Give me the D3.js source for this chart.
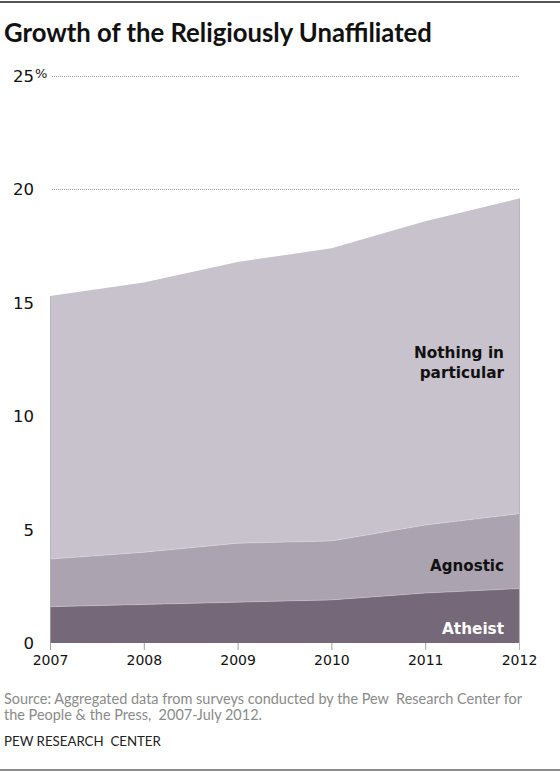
<!DOCTYPE html>
<html>
<head>
<meta charset="utf-8">
<script src="https://cdn.jsdelivr.net/npm/d3@7"></script>
<style>
  html, body { margin: 0; padding: 0; background: #fff; }
  svg { display: block; }
</style>
</head>
<body>
<svg id="chart" width="560" height="773"></svg>
<script>
// ---- data ----
const years = [2007, 2008, 2009, 2010, 2011, 2012];
const atheist = [1.6, 1.7, 1.8, 1.9, 2.2, 2.4];
const agnostic = [2.1, 2.3, 2.6, 2.6, 3.0, 3.3];
const nothingInParticular = [11.6, 11.9, 12.4, 12.9, 13.4, 13.9];
const seriesKeys = ["Atheist", "Agnostic", "Nothing in particular"];
const yTicks = [0, 5, 10, 15, 20, 25];
const gridTicks = [5, 10, 15, 20, 25];
const titleText = "Growth of the Religiously Unaffiliated";
const sourceLines = [
  "Source: Aggregated data from surveys conducted by the Pew  Research Center for",
  "the People & the Press,  2007-July 2012."
];
const creditText = "PEW RESEARCH  CENTER";

// ---- setup ----
const svg = d3.select("#chart");
const W = 560, H = 773;
const pLeft = 50, pRight = 519, pTop = 76, pBottom = 643;

const x = d3.scaleLinear().domain([2007, 2012]).range([pLeft, pRight]);
const y = d3.scaleLinear().domain([0, 25]).range([pBottom, pTop]);

const colors = { "Atheist": "#756879", "Agnostic": "#aba3af", "Nothing in particular": "#c7c2cc" };

const table = years.map((yr, i) => ({
  year: yr,
  "Atheist": atheist[i],
  "Agnostic": agnostic[i],
  "Nothing in particular": nothingInParticular[i]
}));
const stacked = d3.stack().keys(seriesKeys)(table);

function fit(sel, target) {
  const node = sel.node();
  const fs = parseFloat(sel.attr("font-size"));
  const w = node.getComputedTextLength();
  if (w > 0) sel.attr("font-size", (fs * target / w).toFixed(2));
  return sel;
}

// top rule
svg.append("rect").attr("x", 0).attr("y", 1).attr("width", W).attr("height", 2).attr("fill", "#555");

// title
const title = svg.append("text")
  .attr("x", 4).attr("y", 42)
  .attr("font-family", "Lato, 'Open Sans', sans-serif")
  .attr("font-weight", "bold")
  .attr("font-size", 21)
  .attr("fill", "#111")
  .text(titleText);
fit(title, 428);

// gridlines (dotted)
svg.append("g").selectAll("line").data(gridTicks).join("line")
  .attr("x1", pLeft + 2).attr("x2", pRight)
  .attr("y1", d => Math.round(y(d)) + 0.5).attr("y2", d => Math.round(y(d)) + 0.5)
  .attr("stroke", "#9a9a9a").attr("stroke-width", 1).attr("stroke-dasharray", "1,1");

// areas
const area = d3.area()
  .x(d => x(d.data.year))
  .y0(d => y(d[0]))
  .y1(d => y(d[1]));

svg.append("g").selectAll("path").data(stacked.slice().reverse()).join("path")
  .attr("d", area)
  .attr("fill", d => colors[d.key]);

// subtle light boundary lines between layers
const topLine = d3.line().x(d => x(d.data.year)).y(d => y(d[1]));
svg.append("g").selectAll("path").data(stacked.slice(0, 2)).join("path")
  .attr("d", topLine)
  .attr("fill", "none")
  .attr("stroke", "#ffffff").attr("stroke-opacity", 0.35).attr("stroke-width", 0.8);

// x axis: baseline ticks
const xAxis = d3.axisBottom(x).tickValues(years).tickFormat(d3.format("d")).tickSize(7).tickPadding(5);
const gx = svg.append("g").attr("transform", `translate(0,${pBottom})`).call(xAxis);
gx.select(".domain").remove();
gx.selectAll(".tick line").attr("stroke", "#a0a0a0");
gx.selectAll(".tick text")
  .attr("font-family", "'DejaVu Sans', Verdana, sans-serif")
  .attr("font-size", 14)
  .attr("fill", "#111");

// right edge line
svg.append("line")
  .attr("x1", pRight + 0.5).attr("x2", pRight + 0.5)
  .attr("y1", y(stacked[2][5][1])).attr("y2", pBottom + 7)
  .attr("stroke", "#b8b8b8").attr("stroke-width", 1);
// left edge
svg.append("line")
  .attr("x1", pLeft + 0.5).attr("x2", pLeft + 0.5)
  .attr("y1", y(stacked[2][0][1])).attr("y2", pBottom)
  .attr("stroke", "#b0b0b0").attr("stroke-width", 1).attr("stroke-opacity", 0.6);

// y axis labels
const yAxis = d3.axisLeft(y).tickValues(yTicks).tickSize(0).tickPadding(0).tickFormat(d => d);
const gy = svg.append("g").attr("transform", `translate(34,0)`).call(yAxis);
gy.select(".domain").remove();
gy.selectAll(".tick text")
  .attr("font-family", "'DejaVu Sans', Verdana, sans-serif")
  .attr("font-size", 16.5)
  .attr("fill", "#111")
  .attr("dy", "0.33em");
// percent sign on top tick
gy.selectAll(".tick").filter(d => d === 25).append("text")
  .attr("x", 1).attr("dy", "0.1em")
  .attr("text-anchor", "start")
  .attr("font-family", "'DejaVu Sans', Verdana, sans-serif")
  .attr("font-size", 13)
  .attr("fill", "#111")
  .text("%");

// series labels
const lblFont = "'DejaVu Sans', Verdana, sans-serif";
const labelX = 504;
function seriesLabel(t, yy, color, width) {
  const s = svg.append("text").attr("x", labelX).attr("y", yy)
    .attr("text-anchor", "end").attr("font-family", lblFont).attr("font-weight", "bold")
    .attr("font-size", 14).attr("fill", color).text(t);
  fit(s, width);
  return s;
}
const nl = seriesLabel("Nothing in", 358, "#111", 90);
svg.append("text").attr("x", labelX).attr("y", 378)
  .attr("text-anchor", "end").attr("font-family", lblFont).attr("font-weight", "bold")
  .attr("font-size", nl.attr("font-size")).attr("fill", "#111").text("particular");
seriesLabel("Agnostic", 571, "#111", 74);
seriesLabel("Atheist", 634, "#ffffff", 62);

// source
const src = svg.append("g");
sourceLines.forEach((t, i) => {
  const s = src.append("text")
    .attr("x", 4).attr("y", 704 + i * 15.5)
    .attr("font-family", "Lato, 'Open Sans', sans-serif")
    .attr("font-size", 12.5)
    .attr("fill", "#8a8a8a")
    .style("white-space", "pre")
    .text(t);
  if (i === 0) fit(s, 518);
});
const fs0 = src.select("text").attr("font-size");
src.selectAll("text").attr("font-size", fs0);

const credit = svg.append("text")
  .attr("x", 4).attr("y", 746)
  .attr("font-family", "Lato, 'Open Sans', sans-serif")
  .attr("font-size", 12.5)
  .attr("fill", "#222")
  .style("white-space", "pre")
  .text(creditText);
fit(credit, 157);

// bottom rule
svg.append("rect").attr("x", 0).attr("y", 769).attr("width", W).attr("height", 2).attr("fill", "#8f8a93");
</script>
</body>
</html>
